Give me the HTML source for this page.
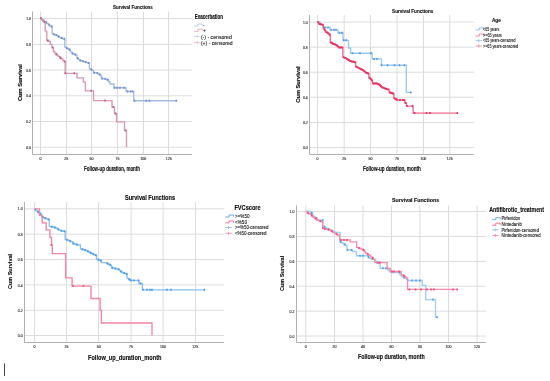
<!DOCTYPE html>
<html><head><meta charset="utf-8"><style>
html,body{margin:0;padding:0;background:#fff;}
svg{display:block;}
text{font-family:"Liberation Sans",Arial,sans-serif;}
</style></head><body>
<svg width="550" height="381" viewBox="0 0 550 381">
<rect width="550" height="381" fill="#fff"/>
<path d="M40.5 11.5 V154.2 M66.5 11.5 V154.2 M91.5 11.5 V154.2 M117.5 11.5 V154.2 M143.5 11.5 V154.2 M168.5 11.5 V154.2 M32.5 18.5 H192 M32.5 44.5 H192 M32.5 70 H192 M32.5 95.8 H192 M32.5 121.5 H192 M32.5 147.2 H192" stroke="#dcdcdc" stroke-width="1" fill="none"/>
<path d="M32.5 11.5 V154.5 H192" stroke="#b0b0b0" stroke-width="1" fill="none"/>
<text x="40.4" y="160.2" font-size="4.2" text-anchor="middle" textLength="1.99" lengthAdjust="spacingAndGlyphs" fill="#333" stroke="#333" stroke-width="0.16">0</text>
<text x="66.3" y="160.2" font-size="4.2" text-anchor="middle" textLength="3.97" lengthAdjust="spacingAndGlyphs" fill="#333" stroke="#333" stroke-width="0.16">25</text>
<text x="91.6" y="160.2" font-size="4.2" text-anchor="middle" textLength="3.97" lengthAdjust="spacingAndGlyphs" fill="#333" stroke="#333" stroke-width="0.16">50</text>
<text x="117.4" y="160.2" font-size="4.2" text-anchor="middle" textLength="3.97" lengthAdjust="spacingAndGlyphs" fill="#333" stroke="#333" stroke-width="0.16">75</text>
<text x="143.3" y="160.2" font-size="4.2" text-anchor="middle" textLength="5.96" lengthAdjust="spacingAndGlyphs" fill="#333" stroke="#333" stroke-width="0.16">100</text>
<text x="168.7" y="160.2" font-size="4.2" text-anchor="middle" textLength="5.96" lengthAdjust="spacingAndGlyphs" fill="#333" stroke="#333" stroke-width="0.16">125</text>
<text x="31" y="20.08" font-size="4.2" text-anchor="end" textLength="4.79" lengthAdjust="spacingAndGlyphs" fill="#333" stroke="#333" stroke-width="0.16">1.0</text>
<text x="31" y="45.98" font-size="4.2" text-anchor="end" textLength="4.79" lengthAdjust="spacingAndGlyphs" fill="#333" stroke="#333" stroke-width="0.16">0.8</text>
<text x="31" y="71.68" font-size="4.2" text-anchor="end" textLength="4.79" lengthAdjust="spacingAndGlyphs" fill="#333" stroke="#333" stroke-width="0.16">0.6</text>
<text x="31" y="97.48" font-size="4.2" text-anchor="end" textLength="4.79" lengthAdjust="spacingAndGlyphs" fill="#333" stroke="#333" stroke-width="0.16">0.4</text>
<text x="31" y="123.18" font-size="4.2" text-anchor="end" textLength="4.79" lengthAdjust="spacingAndGlyphs" fill="#333" stroke="#333" stroke-width="0.16">0.2</text>
<text x="31" y="148.88" font-size="4.2" text-anchor="end" textLength="4.79" lengthAdjust="spacingAndGlyphs" fill="#333" stroke="#333" stroke-width="0.16">0.0</text>
<path d="M40.4 18.3 H41.67 V19.35 H42.95 V20.4 H44.23 V21.45 H45.5 V22.5 H46.93 V23.67 H48.37 V24.83 H49.8 V26 H51 V26.4 H52.2 V26.8 L52.2 33.9 H53.35 V34.3 H54.5 V34.7 H55.7 V35.15 H56.9 V35.6 H58.1 V36.5 H59.3 V37.4 H60.85 V38 H62.4 V38.6 H63.6 V38.8 H64.8 V39 L64.8 47.1 H66.1 V47.9 H67.4 V48.7 H68.7 V49.5 H70.3 V51.9 H71.9 V53.4 H73.25 V54 H74.6 V54.6 H75.8 V55 H77 V55.4 L77 58.2 H78.35 V59.35 H79.7 V60.5 H81.03 V60.9 H82.37 V61.3 H83.7 V61.7 H85 V62.1 H86.3 V62.5 H87.6 V62.9 H89.4 V64.1 L89.4 68.7 H90.65 V69.5 H91.9 V70.3 H93.5 V72.7 H95.1 V72.85 H96.7 V73 H97.85 V73.8 H99 V74.6 H100.6 V75.8 H101.4 V78.6 H102.95 V78.7 H104.5 V78.8 H105.7 V79.25 H106.9 V79.7 H108.5 V81.7 H110 V84 L113.9 84 L113.9 87.7 L126.1 87.7 L126.1 91.4 L133.7 91.4 L133.7 100.7 L176.4 100.7" stroke="#a3bde2" stroke-width="1.35" fill="none" stroke-linejoin="miter"/>
<path d="M114.5 86.7 v2 M117 86.7 v2 M120 86.7 v2 M124 86.7 v2 M127.5 90.4 v2 M130.5 90.4 v2 M132.5 90.4 v2 M134.5 99.7 v2 M146.2 99.7 v2 M149.3 99.7 v2 M176.4 99.7 v2 M41.04 17.3 v2 M43.59 19.4 v2 M46.22 21.5 v2 M49.08 23.83 v2 M51.6 25.4 v2 M53.92 33.3 v2 M56.3 34.15 v2 M58.7 35.5 v2 M61.62 37 v2 M64.2 37.8 v2 M66.75 46.9 v2 M69.5 48.5 v2 M72.58 52.4 v2 M75.2 53.6 v2 M77.67 57.2 v2 M80.37 59.5 v2 M83.03 60.3 v2 M85.65 61.1 v2 M88.5 61.9 v2 M91.28 68.5 v2 M94.3 71.7 v2 M97.27 72 v2 M99.8 73.6 v2 M102.18 77.6 v2 M105.1 77.8 v2 M107.7 78.7 v2" stroke="#6b8fcc" stroke-width="1.5" fill="none"/>
<path d="M40.4 18.3 H41.55 V19.8 H42.7 V21.3 H43.95 V21.9 H45.2 V22.5 L45.2 30.8 H46.5 V32 H46.8 V40.5 H48.7 V41.3 H50.3 V44.4 H51.9 V47.6 H53.4 V51.5 H54.6 V52.9 H55.8 V54.3 H57 V55.3 H58.2 V56.3 H59.55 V57.45 H60.9 V58.6 H62.9 V60.6 H64.05 V61.6 H65.2 V62.6 L65.2 73.3 L77 73.3 L77 77.8 L83.4 77.8 L83.4 82.1 L85.4 82.1 L85.4 90.8 L93.5 90.8 L93.5 100.6 L112 100.6 L112 107.1 L114.5 107.1 L114.5 113.5 L116.6 113.5 L116.6 121.8 L124.5 121.8 L124.5 130.4 L126.5 130.4 L126.5 147.2" stroke="#d898b0" stroke-width="1.35" fill="none" stroke-linejoin="miter"/>
<path d="M65.3 72.3 v2 M74.3 72.3 v2 M91.2 89.8 v2 M105 99.6 v2 M113.3 106.1 v2 M115.5 112.5 v2 M125.5 129.4 v2 M60.7 57.2 v2 M40.97 17.3 v2 M44.58 20.9 v2 M47.75 39.5 v2 M52.65 46.6 v2 M56.4 53.3 v2 M60.23 56.45 v2 M64.62 60.6 v2" stroke="#bd6087" stroke-width="1.5" fill="none"/>
<text x="113" y="8.8" font-size="5.5" font-weight="bold" textLength="39.8" lengthAdjust="spacingAndGlyphs" stroke="#222" stroke-width="0.12">Survival Functions</text>
<text x="84" y="170.9" font-size="6.4" font-weight="bold" textLength="56" lengthAdjust="spacingAndGlyphs" stroke="#222" stroke-width="0.12">Follow-up duration, month</text>
<text x="22" y="82.6" font-size="5.6" font-weight="bold" text-anchor="middle" textLength="37" lengthAdjust="spacingAndGlyphs" stroke="#222" stroke-width="0.12" transform="rotate(-90 22 82.6)">Cum Survival</text>
<text x="194.7" y="18.9" font-size="6.3" font-weight="bold" textLength="28.3" lengthAdjust="spacingAndGlyphs" stroke="#222" stroke-width="0.12">Exacerbation</text>
<path d="M194.1 26 h3.8 v-2 h4.4 v1.8" stroke="#b8cbea" stroke-width="0.9" fill="none"/>
<text x="203" y="26.8" font-size="5" stroke="#222" stroke-width="0.08">-</text>
<path d="M194.1 31.3 h3.8 v-2 h4.4 v1.8" stroke="#e2aabe" stroke-width="0.9" fill="none"/>
<text x="203" y="32.1" font-size="5" stroke="#222" stroke-width="0.08">+</text>
<path d="M194.1 36.4 h6.5 M197.3 34.9 v3" stroke="#b8cbea" stroke-width="0.75" fill="none"/>
<text x="200.9" y="38.56" font-size="6" textLength="30.9" lengthAdjust="spacingAndGlyphs" stroke="#222" stroke-width="0.08">(-) - censored</text>
<path d="M194.1 42.6 h6.5 M197.3 41.1 v3" stroke="#e2aabe" stroke-width="0.75" fill="none"/>
<text x="200.9" y="44.76" font-size="6" textLength="31.8" lengthAdjust="spacingAndGlyphs" stroke="#222" stroke-width="0.08">(+) - censored</text>
<path d="M317.5 15 V154.4 M344.2 15 V154.4 M370.5 15 V154.4 M397 15 V154.4 M423.5 15 V154.4 M449.8 15 V154.4 M309.5 22.1 H474 M309.5 47.14 H474 M309.5 72.18 H474 M309.5 97.22 H474 M309.5 122.5 H474 M309.5 147.5 H474" stroke="#dcdcdc" stroke-width="1" fill="none"/>
<path d="M309.5 15 V154.5 H474" stroke="#b0b0b0" stroke-width="1" fill="none"/>
<text x="317.4" y="159.8" font-size="4.2" text-anchor="middle" textLength="1.99" lengthAdjust="spacingAndGlyphs" fill="#333" stroke="#333" stroke-width="0.16">0</text>
<text x="344.2" y="159.8" font-size="4.2" text-anchor="middle" textLength="3.97" lengthAdjust="spacingAndGlyphs" fill="#333" stroke="#333" stroke-width="0.16">25</text>
<text x="370.4" y="159.8" font-size="4.2" text-anchor="middle" textLength="3.97" lengthAdjust="spacingAndGlyphs" fill="#333" stroke="#333" stroke-width="0.16">50</text>
<text x="397" y="159.8" font-size="4.2" text-anchor="middle" textLength="3.97" lengthAdjust="spacingAndGlyphs" fill="#333" stroke="#333" stroke-width="0.16">75</text>
<text x="423.4" y="159.8" font-size="4.2" text-anchor="middle" textLength="5.96" lengthAdjust="spacingAndGlyphs" fill="#333" stroke="#333" stroke-width="0.16">100</text>
<text x="449.8" y="159.8" font-size="4.2" text-anchor="middle" textLength="5.96" lengthAdjust="spacingAndGlyphs" fill="#333" stroke="#333" stroke-width="0.16">125</text>
<text x="307.8" y="23.78" font-size="4.2" text-anchor="end" textLength="4.79" lengthAdjust="spacingAndGlyphs" fill="#333" stroke="#333" stroke-width="0.16">1.0</text>
<text x="307.8" y="48.82" font-size="4.2" text-anchor="end" textLength="4.79" lengthAdjust="spacingAndGlyphs" fill="#333" stroke="#333" stroke-width="0.16">0.8</text>
<text x="307.8" y="73.86" font-size="4.2" text-anchor="end" textLength="4.79" lengthAdjust="spacingAndGlyphs" fill="#333" stroke="#333" stroke-width="0.16">0.6</text>
<text x="307.8" y="98.9" font-size="4.2" text-anchor="end" textLength="4.79" lengthAdjust="spacingAndGlyphs" fill="#333" stroke="#333" stroke-width="0.16">0.4</text>
<text x="307.8" y="123.94" font-size="4.2" text-anchor="end" textLength="4.79" lengthAdjust="spacingAndGlyphs" fill="#333" stroke="#333" stroke-width="0.16">0.2</text>
<text x="307.8" y="148.98" font-size="4.2" text-anchor="end" textLength="4.79" lengthAdjust="spacingAndGlyphs" fill="#333" stroke="#333" stroke-width="0.16">0.0</text>
<path d="M317.3 22.1 L320 22.1 L320 24.3 L322.7 24.3 L322.7 27.4 L330 27.4 L330 29.8 L338 29.8 L338 32.8 L343 32.8 L343 40.3 L348.5 40.3 L348.5 48 L350.6 48 L350.6 53.2 L372.2 53.2 L372.2 58.9 L381.5 58.9 L381.5 65.2 L406.3 65.2 L406.3 92.4 L410.7 92.4" stroke="#98c9f0" stroke-width="1.35" fill="none" stroke-linejoin="miter"/>
<path d="M325 26.4 v2 M328 26.4 v2 M331 28.8 v2 M334 28.8 v2 M336 28.8 v2 M339.5 31.8 v2 M342 31.8 v2 M343.8 39.3 v2 M346.2 39.3 v2 M352.5 52.2 v2 M360 52.2 v2 M371 52.2 v2 M374 57.9 v2 M377 57.9 v2 M381.5 64.2 v2 M387.5 64.2 v2 M394.5 64.2 v2 M399.5 64.2 v2 M404.5 64.2 v2 M410.7 91.4 v2" stroke="#5096e0" stroke-width="1.5" fill="none"/>
<path d="M317.3 22.1 H318.7 V23.9 H320.1 V24.3 H321.5 V24.7 H323.4 V28.6 H324.6 V30.4 H325.8 V32.2 H327.4 V33.35 H329 V34.5 H330.3 V34.9 L330.3 42.4 H331.6 V43.2 H332.9 V44 H334.45 V44.6 H336 V45.2 H337.2 V46.3 H338.4 V47.4 H339.9 V47.47 H341.4 V47.53 H342.9 V47.6 L342.9 57.3 H344.6 V58.1 H346.3 V58.9 H347.85 V59.95 H349.4 V61 H351 V61.4 H352.6 V61.8 H354.15 V62.2 H355.7 V62.6 L355.7 66.8 H357.3 V67.6 H358.9 V68.4 H360.45 V69.2 H362 V70 H363.6 V71.3 H365.2 V72.6 H366.5 V73.1 H367.8 V73.6 H368.9 V77.8 H370.2 V79.1 H371.5 V80.4 H372.5 V83.4 H373.73 V83.47 H374.97 V83.53 H376.2 V83.6 H377.7 V84.15 H379.2 V84.7 H380.25 V86 H381.3 V87.3 H382.85 V87.85 H384.4 V88.4 H385.75 V88.9 H387.1 V89.4 H389.2 V92.4 H390.4 V92.8 H391.6 V93.2 H392.8 V93.6 H393.9 V98.4 H395.45 V99.2 H397 V100 L403.3 100 H404.9 V103.1 H406.5 V106.1 L413.1 106.1 L413.1 113.1 L457.4 113.1" stroke="#f06a90" stroke-width="1.35" fill="none" stroke-linejoin="miter"/>
<path d="M397 99 v2 M400 99 v2 M403 99 v2 M407 105.1 v2 M412.5 105.1 v2 M414.5 112.1 v2 M426.5 112.1 v2 M430 112.1 v2 M457.4 112.1 v2 M318 21.1 v2 M319.4 22.9 v2 M320.8 23.3 v2 M322.45 23.7 v2 M324 27.6 v2 M325.2 29.4 v2 M326.6 31.2 v2 M328.2 32.35 v2 M329.65 33.5 v2 M330.95 41.4 v2 M332.25 42.2 v2 M333.67 43 v2 M335.23 43.6 v2 M336.6 44.2 v2 M337.8 45.3 v2 M339.15 46.4 v2 M340.65 46.47 v2 M342.15 46.53 v2 M343.75 56.3 v2 M345.45 57.1 v2 M347.08 57.9 v2 M348.62 58.95 v2 M350.2 60 v2 M351.8 60.4 v2 M353.38 60.8 v2 M354.93 61.2 v2 M356.5 65.8 v2 M358.1 66.6 v2 M359.67 67.4 v2 M361.23 68.2 v2 M362.8 69 v2 M364.4 70.3 v2 M365.85 71.6 v2 M367.15 72.1 v2 M368.35 72.6 v2 M369.55 76.8 v2 M370.85 78.1 v2 M372 79.4 v2 M373.12 82.4 v2 M374.35 82.47 v2 M375.58 82.53 v2 M376.95 82.6 v2 M378.45 83.15 v2 M379.73 83.7 v2 M380.77 85 v2 M382.08 86.3 v2 M383.62 86.85 v2 M385.07 87.4 v2 M386.43 87.9 v2 M388.15 88.4 v2 M389.8 91.4 v2 M391 91.8 v2 M392.2 92.2 v2 M393.35 92.6 v2 M394.67 97.4 v2 M396.23 98.2 v2 M404.1 99 v2 M405.7 102.1 v2" stroke="#e8305f" stroke-width="1.5" fill="none"/>
<text x="392.1" y="12.8" font-size="6" font-weight="bold" textLength="41.2" lengthAdjust="spacingAndGlyphs" stroke="#222" stroke-width="0.12">Survival Functions</text>
<text x="362.9" y="170.7" font-size="6.4" font-weight="bold" textLength="58" lengthAdjust="spacingAndGlyphs" stroke="#222" stroke-width="0.12">Follow-up duration, month</text>
<text x="299.9" y="84.5" font-size="5.6" font-weight="bold" text-anchor="middle" textLength="36.3" lengthAdjust="spacingAndGlyphs" stroke="#222" stroke-width="0.12" transform="rotate(-90 299.9 84.5)">Cum Survival</text>
<text x="492" y="22.1" font-size="5.8" font-weight="bold" textLength="8.8" lengthAdjust="spacingAndGlyphs" stroke="#222" stroke-width="0.12">Age</text>
<path d="M475.5 29.9 h3.8 v-2 h4.4 v1.8" stroke="#86bbee" stroke-width="0.9" fill="none"/>
<text x="483" y="30.77" font-size="5.2" textLength="16.3" lengthAdjust="spacingAndGlyphs" stroke="#222" stroke-width="0.08">&lt;65 years</text>
<path d="M475.5 36 h3.8 v-2 h4.4 v1.8" stroke="#f07f9f" stroke-width="0.9" fill="none"/>
<text x="483" y="36.87" font-size="5.2" textLength="18.8" lengthAdjust="spacingAndGlyphs" stroke="#222" stroke-width="0.08">&gt;=65 years</text>
<path d="M475.5 40.5 h6.5 M478.7 39 v3" stroke="#8cc0ee" stroke-width="0.75" fill="none"/>
<text x="483" y="42.37" font-size="5.2" textLength="32.6" lengthAdjust="spacingAndGlyphs" stroke="#222" stroke-width="0.08">&lt;65 years-censored</text>
<path d="M475.5 46 h6.5 M478.7 44.5 v3" stroke="#f07898" stroke-width="0.75" fill="none"/>
<text x="483" y="47.87" font-size="5.2" textLength="35" lengthAdjust="spacingAndGlyphs" stroke="#222" stroke-width="0.08">&gt;=65 years-censored</text>
<path d="M34.5 202 V342.4 M66.5 202 V342.4 M98.5 202 V342.4 M131.1 202 V342.4 M163.1 202 V342.4 M195.5 202 V342.4 M24.4 208.8 H224.2 M24.4 234.16 H224.2 M24.4 259.5 H224.2 M24.4 284.88 H224.2 M24.4 310.24 H224.2 M24.4 335.5 H224.2" stroke="#dcdcdc" stroke-width="1" fill="none"/>
<path d="M24.5 202 V342.5 H224.2" stroke="#b0b0b0" stroke-width="1" fill="none"/>
<text x="34.6" y="348" font-size="4.2" text-anchor="middle" textLength="1.99" lengthAdjust="spacingAndGlyphs" fill="#333" stroke="#333" stroke-width="0.16">0</text>
<text x="66.4" y="348" font-size="4.2" text-anchor="middle" textLength="3.97" lengthAdjust="spacingAndGlyphs" fill="#333" stroke="#333" stroke-width="0.16">25</text>
<text x="98.7" y="348" font-size="4.2" text-anchor="middle" textLength="3.97" lengthAdjust="spacingAndGlyphs" fill="#333" stroke="#333" stroke-width="0.16">50</text>
<text x="131.1" y="348" font-size="4.2" text-anchor="middle" textLength="3.97" lengthAdjust="spacingAndGlyphs" fill="#333" stroke="#333" stroke-width="0.16">75</text>
<text x="163.1" y="348" font-size="4.2" text-anchor="middle" textLength="5.96" lengthAdjust="spacingAndGlyphs" fill="#333" stroke="#333" stroke-width="0.16">100</text>
<text x="195.3" y="348" font-size="4.2" text-anchor="middle" textLength="5.96" lengthAdjust="spacingAndGlyphs" fill="#333" stroke="#333" stroke-width="0.16">125</text>
<text x="22.6" y="210.48" font-size="4.2" text-anchor="end" textLength="4.79" lengthAdjust="spacingAndGlyphs" fill="#333" stroke="#333" stroke-width="0.16">1.0</text>
<text x="22.6" y="235.84" font-size="4.2" text-anchor="end" textLength="4.79" lengthAdjust="spacingAndGlyphs" fill="#333" stroke="#333" stroke-width="0.16">0.8</text>
<text x="22.6" y="261.2" font-size="4.2" text-anchor="end" textLength="4.79" lengthAdjust="spacingAndGlyphs" fill="#333" stroke="#333" stroke-width="0.16">0.6</text>
<text x="22.6" y="286.56" font-size="4.2" text-anchor="end" textLength="4.79" lengthAdjust="spacingAndGlyphs" fill="#333" stroke="#333" stroke-width="0.16">0.4</text>
<text x="22.6" y="311.92" font-size="4.2" text-anchor="end" textLength="4.79" lengthAdjust="spacingAndGlyphs" fill="#333" stroke="#333" stroke-width="0.16">0.2</text>
<text x="22.6" y="337.28" font-size="4.2" text-anchor="end" textLength="4.79" lengthAdjust="spacingAndGlyphs" fill="#333" stroke="#333" stroke-width="0.16">0.0</text>
<path d="M34.6 209.5 H36.05 V210.7 H37.5 V211.9 H38.7 V212.85 H39.9 V213.8 H41.05 V215.4 H42.2 V217 H43.4 V217.6 H44.6 V218.2 H46.15 V218.8 H47.7 V219.4 H49.3 V220.5 L49.3 226.4 H50.9 V226.7 H52.5 V227 H54.15 V227.5 H55.8 V228 H57.4 V229.15 H59 V230.3 H60.55 V230.65 H62.1 V231 H63.65 V231.35 H65.2 V231.7 L65.2 239.4 H66.4 V239.8 H67.6 V240.2 H69.2 V240.95 H70.8 V241.7 H72.7 V243.5 H74.33 V244 H75.97 V244.5 H77.6 V245 L80.4 245 L80.4 248.8 H81.75 V249.23 H83.1 V249.65 H84.45 V250.07 H85.8 V250.5 H87.17 V251.25 H88.55 V252 H89.92 V252.75 H91.3 V253.5 H92.6 V254.1 H93.9 V254.7 H95.2 V255.3 H96.5 V255.9 L96.5 259.4 H97.83 V259.8 H99.17 V260.2 H100.5 V260.6 H101.3 V262.6 L105.6 262.6 H106.8 V263.4 H108 V264.2 H109.35 V264.8 H110.7 V265.4 H111.5 V267.7 H113.1 V268.1 H114.7 V268.5 H116.25 V268.9 H117.8 V269.3 H119.4 V270.5 H120.6 V271.45 H121.8 V272.4 H123.3 V272.97 H124.8 V273.53 H126.3 V274.1 H127.1 V278.4 H128.65 V279.4 H130.2 V280.4 L138.9 280.4 L138.9 283.5 L142.4 283.5 L142.4 289.8 L204.4 289.8" stroke="#88c1f2" stroke-width="1.35" fill="none" stroke-linejoin="miter"/>
<path d="M143 288.8 v2 M147 288.8 v2 M150 288.8 v2 M152 288.8 v2 M167 288.8 v2 M171 288.8 v2 M204.4 288.8 v2 M131 279.4 v2 M134 279.4 v2 M138.5 279.4 v2 M140.5 282.5 v2 M35.32 208.5 v2 M38.1 210.9 v2 M40.47 212.8 v2 M42.8 216 v2 M45.38 217.2 v2 M48.5 218.4 v2 M51.7 225.7 v2 M54.97 226.5 v2 M58.2 228.15 v2 M61.33 229.65 v2 M64.42 230.35 v2 M67 238.8 v2 M70 239.95 v2 M73.52 242.5 v2 M76.78 243.5 v2 M82.42 248.23 v2 M85.12 249.07 v2 M87.86 250.25 v2 M90.61 251.75 v2 M93.25 253.1 v2 M95.85 254.3 v2 M98.5 258.8 v2 M100.9 259.6 v2 M107.4 262.4 v2 M110.03 263.8 v2 M112.3 266.7 v2 M115.47 267.5 v2 M118.6 268.3 v2 M121.2 270.45 v2 M124.05 271.97 v2 M126.7 273.1 v2 M129.42 278.4 v2" stroke="#4498ea" stroke-width="1.5" fill="none"/>
<path d="M34.6 208.8 L39.5 208.8 L39.5 215.4 L41.8 215.4 L41.8 217 L42.2 217 L42.2 222.9 L46.2 222.9 L46.2 229.9 L49.9 229.9 L49.9 237.4 L51.5 237.4 L51.5 244.9 L52.3 244.9 L52.3 253.6 L65.6 253.6 L65.6 277.8 L72.1 277.8 L72.1 286.1 L91 286.1 L91 298.5 L100.1 298.5 L100.1 310.4 L101.4 310.4 L101.4 323 L152 323 L152 335.6" stroke="#f4849f" stroke-width="1.35" fill="none" stroke-linejoin="miter"/>
<path d="M51.3 244 v2 M73 285.1 v2 M83.5 285.1 v2" stroke="#ee5a84" stroke-width="1.5" fill="none"/>
<text x="124.9" y="199.8" font-size="6.4" font-weight="bold" textLength="50.2" lengthAdjust="spacingAndGlyphs" stroke="#222" stroke-width="0.12">Survival Functions</text>
<text x="88" y="359.6" font-size="6.4" font-weight="bold" textLength="73.5" lengthAdjust="spacingAndGlyphs" stroke="#222" stroke-width="0.12">Follow_up_duration_month</text>
<text x="11.6" y="271.5" font-size="5.6" font-weight="bold" text-anchor="middle" textLength="35" lengthAdjust="spacingAndGlyphs" stroke="#222" stroke-width="0.12" transform="rotate(-90 11.6 271.5)">Cum Survival</text>
<text x="234.4" y="209.5" font-size="6.3" font-weight="bold" textLength="26.3" lengthAdjust="spacingAndGlyphs" stroke="#222" stroke-width="0.12">FVCscore</text>
<path d="M225.3 217 h3.8 v-2 h4.4 v1.8" stroke="#5c9ee8" stroke-width="0.9" fill="none"/>
<text x="235" y="217.94" font-size="5.4" textLength="14.5" lengthAdjust="spacingAndGlyphs" stroke="#222" stroke-width="0.08">&gt;=%50</text>
<path d="M225.3 222.9 h3.8 v-2 h4.4 v1.8" stroke="#f06890" stroke-width="0.9" fill="none"/>
<text x="235" y="223.84" font-size="5.4" textLength="12" lengthAdjust="spacingAndGlyphs" stroke="#222" stroke-width="0.08">&lt;%50</text>
<path d="M225.3 227.5 h6.5 M228.5 226 v3" stroke="#7ab4ee" stroke-width="0.75" fill="none"/>
<text x="235" y="229.44" font-size="5.4" textLength="33.4" lengthAdjust="spacingAndGlyphs" stroke="#222" stroke-width="0.08">&gt;=%50-censored</text>
<path d="M225.3 233.4 h6.5 M228.5 231.9 v3" stroke="#f27ca0" stroke-width="0.75" fill="none"/>
<text x="235" y="235.34" font-size="5.4" textLength="31.6" lengthAdjust="spacingAndGlyphs" stroke="#222" stroke-width="0.08">&lt;%50-censored</text>
<path d="M305.8 205.4 V342.6 M334.5 205.4 V342.6 M363 205.4 V342.6 M391.5 205.4 V342.6 M419.9 205.4 V342.6 M448.5 205.4 V342.6 M477.1 205.4 V342.6 M296.5 211.5 H486 M296.5 236.5 H486 M296.5 261.5 H486 M296.5 286.2 H486 M296.5 311.1 H486 M296.5 336 H486" stroke="#dcdcdc" stroke-width="1" fill="none"/>
<path d="M296.5 205.4 V342.5 H486" stroke="#b0b0b0" stroke-width="1" fill="none"/>
<text x="305.8" y="348" font-size="4.2" text-anchor="middle" textLength="1.99" lengthAdjust="spacingAndGlyphs" fill="#333" stroke="#333" stroke-width="0.16">0</text>
<text x="334.5" y="348" font-size="4.2" text-anchor="middle" textLength="3.97" lengthAdjust="spacingAndGlyphs" fill="#333" stroke="#333" stroke-width="0.16">20</text>
<text x="363" y="348" font-size="4.2" text-anchor="middle" textLength="3.97" lengthAdjust="spacingAndGlyphs" fill="#333" stroke="#333" stroke-width="0.16">40</text>
<text x="391.4" y="348" font-size="4.2" text-anchor="middle" textLength="3.97" lengthAdjust="spacingAndGlyphs" fill="#333" stroke="#333" stroke-width="0.16">60</text>
<text x="419.9" y="348" font-size="4.2" text-anchor="middle" textLength="3.97" lengthAdjust="spacingAndGlyphs" fill="#333" stroke="#333" stroke-width="0.16">80</text>
<text x="448.5" y="348" font-size="4.2" text-anchor="middle" textLength="5.96" lengthAdjust="spacingAndGlyphs" fill="#333" stroke="#333" stroke-width="0.16">100</text>
<text x="477.1" y="348" font-size="4.2" text-anchor="middle" textLength="5.96" lengthAdjust="spacingAndGlyphs" fill="#333" stroke="#333" stroke-width="0.16">120</text>
<text x="294.4" y="213.18" font-size="4.2" text-anchor="end" textLength="4.79" lengthAdjust="spacingAndGlyphs" fill="#333" stroke="#333" stroke-width="0.16">1.0</text>
<text x="294.4" y="238.08" font-size="4.2" text-anchor="end" textLength="4.79" lengthAdjust="spacingAndGlyphs" fill="#333" stroke="#333" stroke-width="0.16">0.8</text>
<text x="294.4" y="262.98" font-size="4.2" text-anchor="end" textLength="4.79" lengthAdjust="spacingAndGlyphs" fill="#333" stroke="#333" stroke-width="0.16">0.6</text>
<text x="294.4" y="287.88" font-size="4.2" text-anchor="end" textLength="4.79" lengthAdjust="spacingAndGlyphs" fill="#333" stroke="#333" stroke-width="0.16">0.4</text>
<text x="294.4" y="312.78" font-size="4.2" text-anchor="end" textLength="4.79" lengthAdjust="spacingAndGlyphs" fill="#333" stroke="#333" stroke-width="0.16">0.2</text>
<text x="294.4" y="337.68" font-size="4.2" text-anchor="end" textLength="4.79" lengthAdjust="spacingAndGlyphs" fill="#333" stroke="#333" stroke-width="0.16">0.0</text>
<path d="M305.8 211.5 L310.9 211.5 L310.9 213 H312.5 V215.5 H313.75 V216.75 H315 V218 H317 V219.5 H318.7 V220.2 L322.7 220.2 L322.7 226.1 H323.85 V226.7 H325 V227.3 H326.6 V228.9 H327.8 V229.2 H329 V229.5 H330.15 V230.15 H331.3 V230.8 H332.7 V231.3 H334.1 V231.8 H335.5 V232.3 L340 232.3 L340 241.8 H341.3 V242.67 H342.6 V243.53 H343.9 V244.4 H345.45 V245.45 H347 V246.5 L347 249.9 L352.3 249.9 L352.3 251.5 L356.5 251.5 L356.5 255.7 L366.5 255.7 H367.85 V257.05 H369.2 V258.4 H370.6 V258.73 H372 V259.07 H373.4 V259.4 H374.7 V261 H376 V262.6 H377.4 V263.1 H378.8 V263.6 H380.2 V264.1 L380.2 268.3 L386.5 268.3 H387.9 V269.7 H389.3 V271.1 H390.7 V272.5 L399.2 272.5 H400 V275 H401.8 V276.8 H403.4 V277.45 H405 V278.1 H406.3 V279.3 H407.6 V280.5 L422.2 280.5 L422.2 285.4 L425.7 285.4 L425.7 299.6 L435.5 299.6 L435.5 317.2 L437 317.2" stroke="#a0cff4" stroke-width="1.35" fill="none" stroke-linejoin="miter"/>
<path d="M322.7 219.2 v2 M347.5 248.9 v2 M351.5 248.9 v2 M360 254.7 v2 M363 254.7 v2 M383 267.3 v2 M386 267.3 v2 M412 279.5 v2 M416 279.5 v2 M420 279.5 v2 M433 298.6 v2 M437 316.2 v2 M311.7 212 v2 M316 217 v2 M324.43 225.7 v2 M328.4 228.2 v2 M332 229.8 v2 M340.65 240.8 v2 M344.67 243.4 v2 M368.52 256.05 v2 M372.7 258.07 v2 M376.7 261.6 v2 M387.2 267.3 v2 M399.6 271.5 v2 M404.2 276.45 v2" stroke="#4c9ce6" stroke-width="1.5" fill="none"/>
<path d="M305.8 211.5 H307.3 V213.1 H308.7 V213.7 H310.1 V214.3 H311.25 V215.5 H312.4 V216.7 H313.6 V217.65 H314.8 V218.6 H316.8 V220.2 H318.15 V220.6 H319.5 V221 H321.1 V221.8 H322.7 V222.6 L322.7 228.1 H324.3 V228.9 H325.45 V229.1 H326.6 V229.3 H327.8 V229.5 H329 V229.7 H330.15 V230.5 H331.3 V231.3 H332.85 V232.35 H334.4 V233.4 H336 V234.2 H337.6 V235 H339.7 V235.5 L339.7 239.9 L350.2 239.9 L350.2 241.8 L356.6 241.8 L356.6 247.4 H358.15 V247.9 H359.7 V248.4 H361.3 V249.2 H362.9 V250 H364.2 V251.55 H365.5 V253.1 H367.05 V254.15 H368.6 V255.2 H370.7 V256.8 H372.05 V258.1 H373.4 V259.4 H375 V262.6 L387.1 262.6 L387.1 268.4 L390.2 268.4 L390.2 271.5 L401.3 271.5 L401.3 275 H403.4 V275.7 H404.7 V276.75 H406 V277.8 H407.6 V280 L407.6 289.4 L457.2 289.4" stroke="#f48cab" stroke-width="1.35" fill="none" stroke-linejoin="miter"/>
<path d="M322.7 227 v2 M341 238.9 v2 M344 238.9 v2 M347 238.9 v2 M378 261.6 v2 M380 261.6 v2 M392 270.5 v2 M394 270.5 v2 M399 270.5 v2 M409.5 288.4 v2 M415.5 288.4 v2 M421 288.4 v2 M427 288.4 v2 M431 288.4 v2 M434 288.4 v2 M453 288.4 v2 M457.2 288.4 v2 M308 212.1 v2 M311.82 214.5 v2 M315.8 217.6 v2 M320.3 220 v2 M324.88 227.9 v2 M328.4 228.5 v2 M332.08 230.3 v2 M336.8 233.2 v2 M358.93 246.9 v2 M363.55 249 v2 M367.83 253.15 v2 M372.72 257.1 v2 M404.05 274.7 v2" stroke="#ea4a7a" stroke-width="1.5" fill="none"/>
<text x="392.1" y="202.4" font-size="5.6" font-weight="bold" textLength="47" lengthAdjust="spacingAndGlyphs" stroke="#222" stroke-width="0.12">Survival Functions</text>
<text x="358.1" y="359" font-size="6.4" font-weight="bold" textLength="66.6" lengthAdjust="spacingAndGlyphs" stroke="#222" stroke-width="0.12">Follow-up duration, month</text>
<text x="283.8" y="273.4" font-size="5.6" font-weight="bold" text-anchor="middle" textLength="35.2" lengthAdjust="spacingAndGlyphs" stroke="#222" stroke-width="0.12" transform="rotate(-90 283.8 273.4)">Cum Survival</text>
<text x="489.2" y="212.2" font-size="6.3" font-weight="bold" textLength="54.9" lengthAdjust="spacingAndGlyphs" stroke="#222" stroke-width="0.12">Antifibrotic_treatment</text>
<path d="M492 219.6 h3.8 v-2 h4.4 v1.8" stroke="#6aaae8" stroke-width="0.9" fill="none"/>
<text x="501.5" y="220.4" font-size="5" textLength="18.5" lengthAdjust="spacingAndGlyphs" stroke="#222" stroke-width="0.08">Pirfenidon</text>
<path d="M492 225.2 h3.8 v-2 h4.4 v1.8" stroke="#ee6890" stroke-width="0.9" fill="none"/>
<text x="501.5" y="226" font-size="5" textLength="20.3" lengthAdjust="spacingAndGlyphs" stroke="#222" stroke-width="0.08">Nintedanib</text>
<path d="M492 229.8 h6.5 M495.2 228.3 v3" stroke="#7ab4ee" stroke-width="0.75" fill="none"/>
<text x="501.5" y="231.6" font-size="5" textLength="37.5" lengthAdjust="spacingAndGlyphs" stroke="#222" stroke-width="0.08">Pirfenidon-censored</text>
<path d="M492 235.5 h6.5 M495.2 234 v3" stroke="#f07898" stroke-width="0.75" fill="none"/>
<text x="501.5" y="237.3" font-size="5" textLength="39.2" lengthAdjust="spacingAndGlyphs" stroke="#222" stroke-width="0.08">Nintedanib-censored</text>
<path d="M4.5 363.4 V376" stroke="#444" stroke-width="1"/>
</svg>
</body></html>
